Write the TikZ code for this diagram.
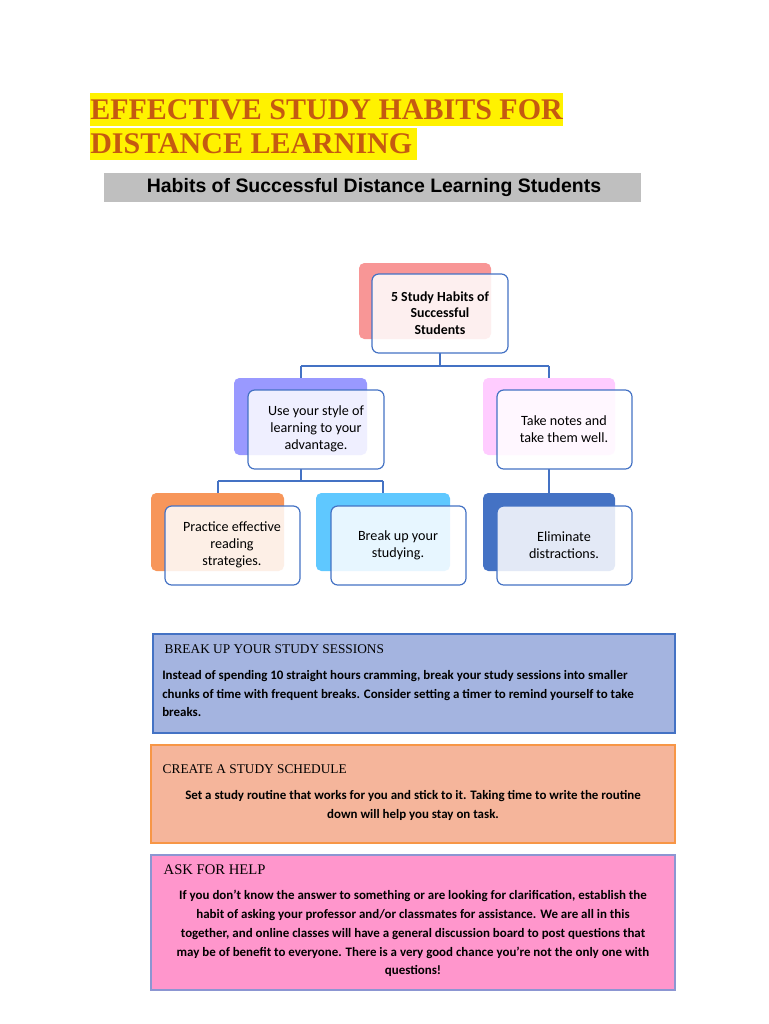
\documentclass[tikz,border=0pt]{standalone}
\usepackage{fontspec}
\setmainfont{Carlito}
\newfontfamily\titlefont{Liberation Serif}
\newfontfamily\arialfont{Liberation Sans}
\usetikzlibrary{positioning}
\definecolor{ttl}{HTML}{C55A11}
\definecolor{bord}{HTML}{4472C4}
\tikzset{
 back/.style={rounded corners=4pt},
 front/.style={draw=bord,line width=0.9pt,rounded corners=5pt,fill=white,fill opacity=0.85,text opacity=1},
 lbl/.style={align=center,font=\fontsize{10.6}{12.6}\selectfont},
 conn/.style={draw=bord,line width=0.8pt},
 tbox/.style={line width=0.8pt},
 head/.style={anchor=west,font=\titlefont\fontsize{10}{11}\selectfont},
 body/.style={font=\bfseries\fontsize{9.7}{14.1}\selectfont,inner sep=0pt}
}
\begin{document}
\begin{tikzpicture}[x=0.75pt,y=-0.75pt]
\useasboundingbox (0,0) rectangle (768,1024);
% title
\fill[yellow] (90,93) rectangle (563,126);
\fill[yellow] (90,128) rectangle (417,160);
\node[anchor=west,inner sep=0pt,text=ttl,font=\titlefont\bfseries\fontsize{22.5}{24}\selectfont] (t1) at (90,110) {EFFECTIVE STUDY HABITS FOR};
\node[anchor=west,inner sep=0pt,text=ttl,font=\titlefont\bfseries\fontsize{22.5}{24}\selectfont] (t2) at (90,144) {DISTANCE LEARNING};
\fill[black!25] (104,173) rectangle (641,202);
\node[inner sep=0pt,font=\arialfont\bfseries\fontsize{14.6}{16}\selectfont] (sub) at (374,188) {Habits of Successful Distance Learning Students};
% connectors
\coordinate (c0) at (440,366);
\draw[conn] (440,353) -- (c0) (301,366) -- (549,366) (301,366) -- (301,390) (549,366) -- (549,390);
\draw[conn] (301,469) -- (301,481) (218,481) -- (383,481) (218,481) -- (218,506) (383,481) -- (383,506);
\draw[conn] (549,469) -- (549,506);
% back rects
\fill[back,fill={rgb,255:red,248;green,150;blue,150}] (359,263) rectangle (491,339);
\fill[back,fill={rgb,255:red,153;green,153;blue,255}] (234,378) rectangle (367,455);
\fill[back,fill={rgb,255:red,255;green,204;blue,255}] (483,378) rectangle (615,455);
\fill[back,fill={rgb,255:red,247;green,150;blue,90}] (151,493) rectangle (284,571);
\fill[back,fill={rgb,255:red,95;green,200;blue,255}] (316,493) rectangle (450,571);
\fill[back,fill=bord] (483,493) rectangle (615,571);
% front boxes
\draw[front] (372,274) rectangle (508,353);
\node[lbl,font=\bfseries\fontsize{10.4}{12.6}\selectfont] (n0) at (440,313) {5 Study Habits of\\Successful\\Students};
\draw[front] (248,390) rectangle (384,469);
\node[lbl] (n1) at (316,429) {Use your style of\\learning to your\\advantage.};
\draw[front] (497,390) rectangle (632,469);
\node[lbl] (n2) at (564,429) {Take notes and\\take them well.};
\draw[front] (165,506) rectangle (300,585);
\node[lbl] (n3) at (232,545) {Practice effective\\reading\\strategies.};
\draw[front] (331,506) rectangle (466,585);
\node[lbl] (n4) at (398,545) {Break up your\\studying.};
\draw[front] (497,506) rectangle (632,585);
\node[lbl] (n5) at (564,545) {Eliminate\\distractions.};
% text boxes
\draw[tbox,draw=bord,fill={rgb,255:red,164;green,180;blue,224}] (153,634) rectangle (675,733);
\node[head] (h1) at (160,649) {BREAK UP YOUR STUDY SESSIONS};
\node[body,align=left,anchor=north west] (b1) at (162,670) {Instead of spending 10 straight hours cramming, break your study sessions into smaller\\chunks of time with frequent breaks. Consider setting a timer to remind yourself to take\\breaks.};
\draw[tbox,draw={rgb,255:red,247;green,150;blue,70},fill={rgb,255:red,245;green,181;blue,155}] (151,745) rectangle (675,843);
\node[head] (h2) at (158,769) {CREATE A STUDY SCHEDULE};
\node[body,align=center,anchor=north] (b2) at (413,790) {Set a study routine that works for you and stick to it. Taking time to write the routine\\down will help you stay on task.};
\draw[tbox,draw={rgb,255:red,140;green,150;blue,210},fill={rgb,255:red,255;green,150;blue,204}] (151,855) rectangle (675,990);
\node[head,font=\titlefont\fontsize{11}{12}\selectfont] (h3) at (159,870) {ASK FOR HELP};
\node[body,align=center,anchor=north] (b3) at (413,890) {If you don’t know the answer to something or are looking for clarification, establish the\\habit of asking your professor and/or classmates for assistance. We are all in this\\together, and online classes will have a general discussion board to post questions that\\may be of benefit to everyone. There is a very good chance you’re not the only one with\\questions!};
\end{tikzpicture}
\end{document}
